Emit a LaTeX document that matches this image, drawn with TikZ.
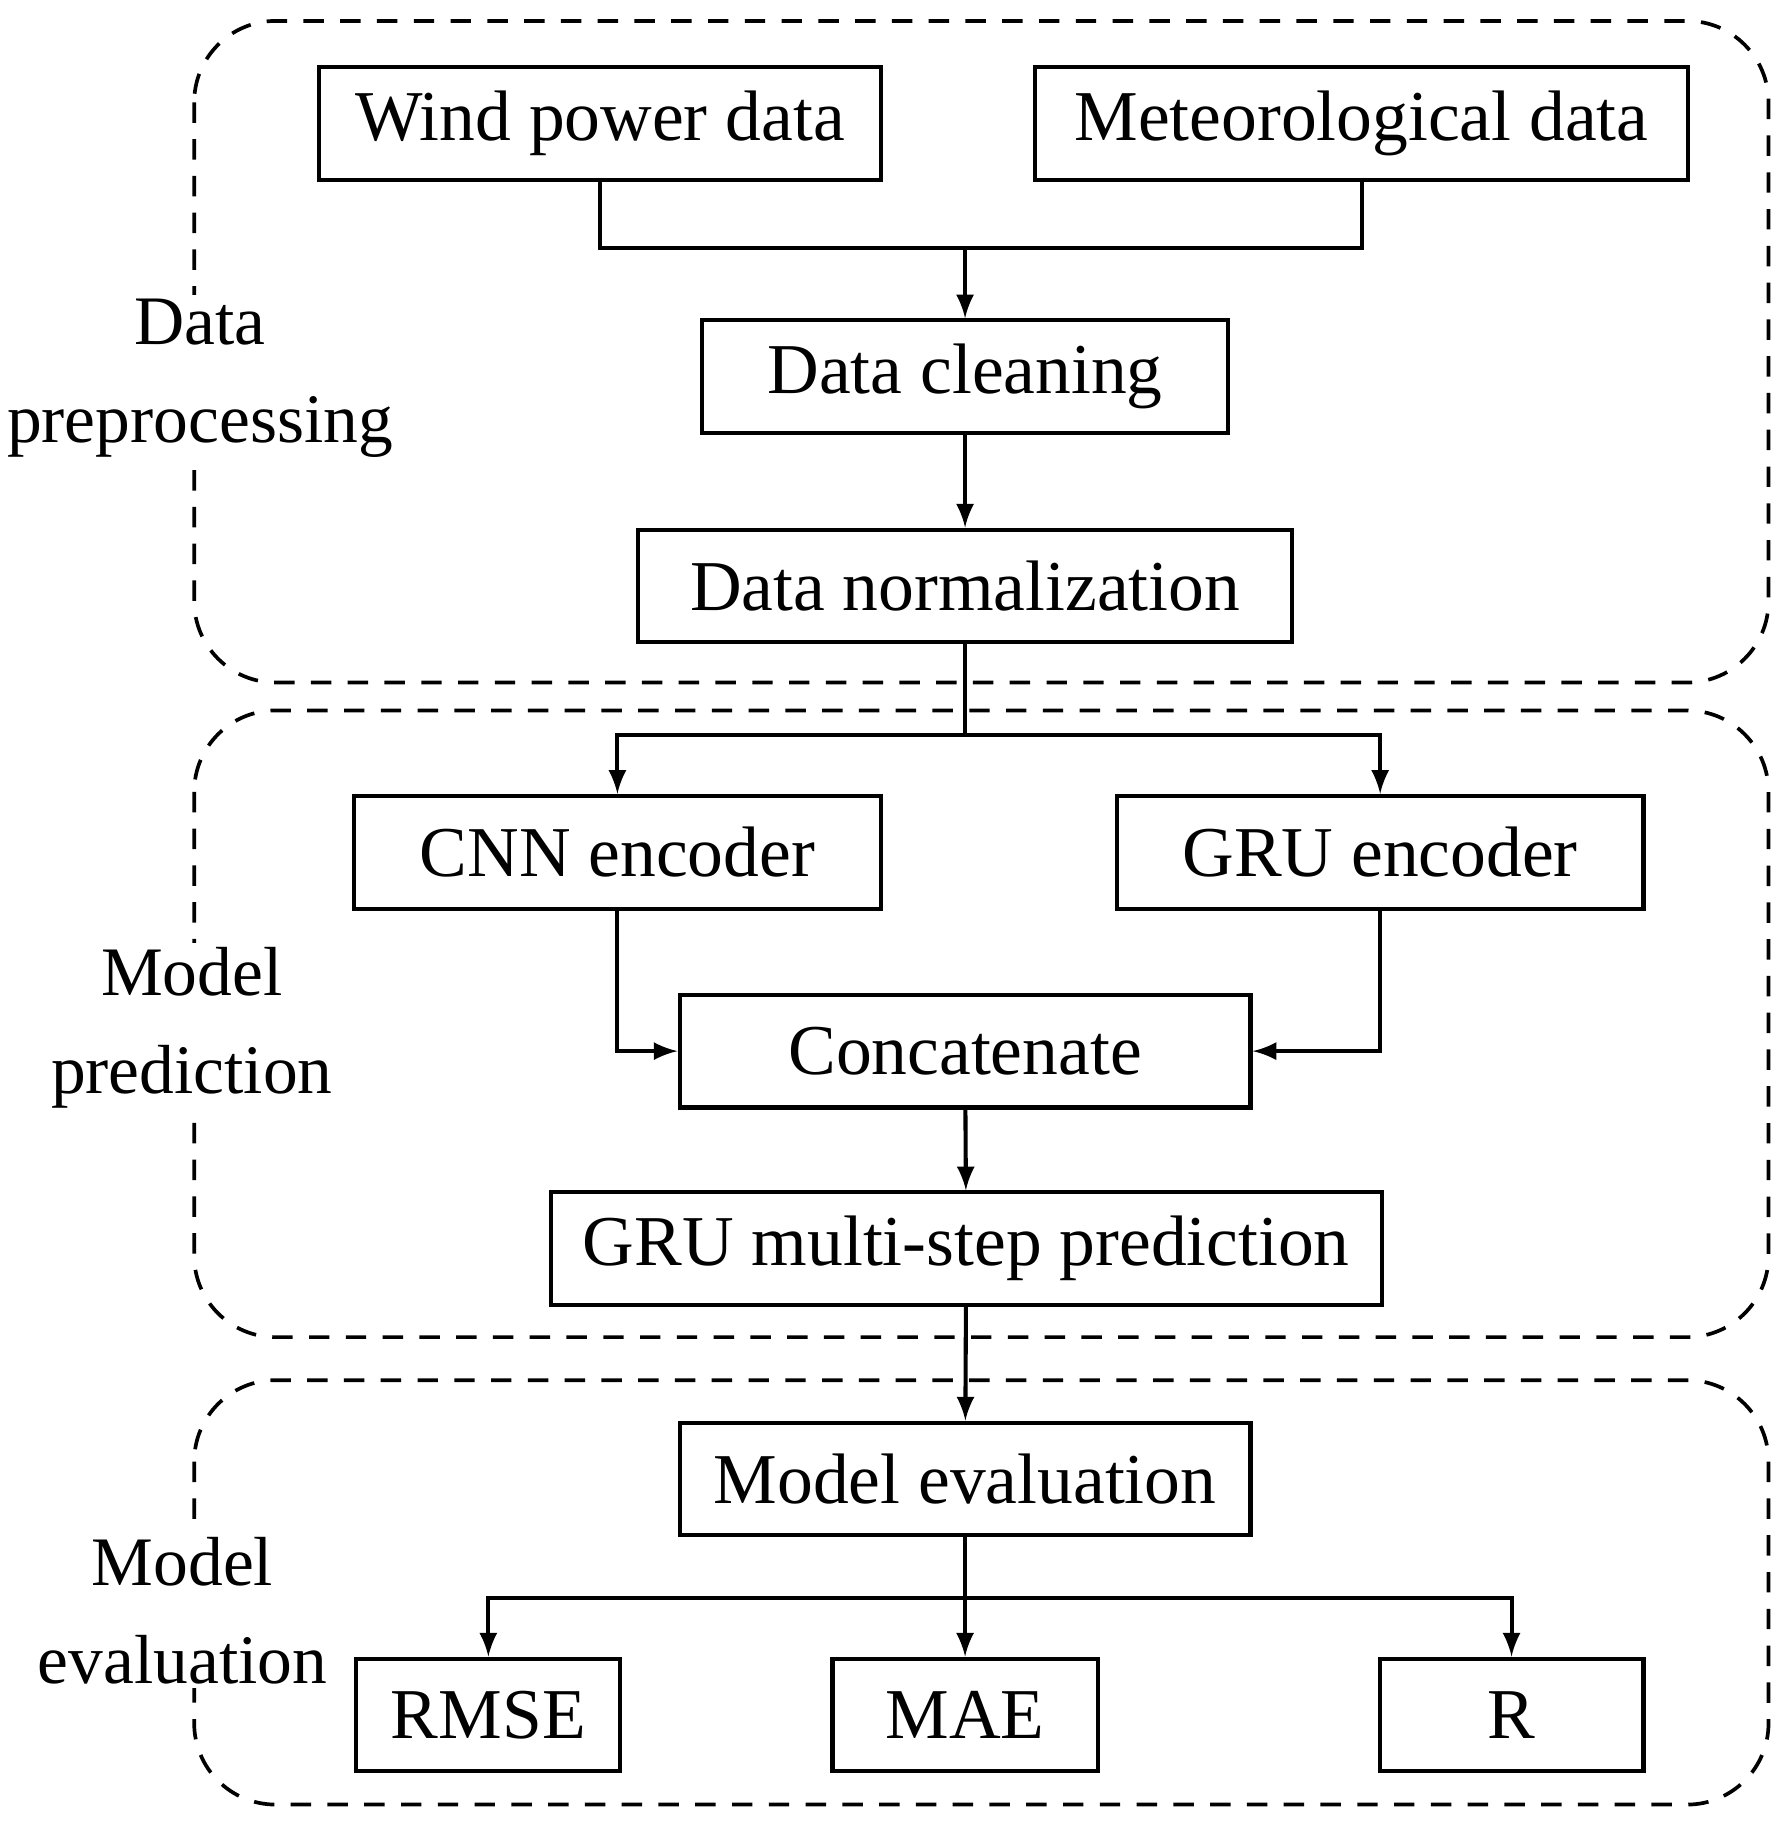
\documentclass[tikz,border=0pt]{standalone}
\usepackage{fontspec}
\setmainfont{Liberation Serif}
\begin{document}
\begin{tikzpicture}[x=1cm,y=-1cm,
  box/.style={draw,line width=1pt,inner sep=0pt,minimum height=0.97cm,font=\fontsize{17.5}{20}\selectfont},
  grp/.style={draw,dashed,line width=0.9pt,rounded corners=0.7cm,dash pattern=on 5pt off 4pt},
  lab/.style={fill=white,align=center,inner sep=1pt,font=\fontsize{17}{24}\selectfont},
  arr/.style={-latex,line width=1pt},
  ln/.style={line width=1pt}]
\useasboundingbox (0,0) rectangle (15.37,15.67);
% groups
\draw[grp] (1.67,0.18) rectangle (15.21,5.87);
\draw[grp] (1.67,6.11) rectangle (15.21,11.50);
\draw[grp] (1.67,11.87) rectangle (15.21,15.52);
\node[lab] (l1) at (1.72,3.25) {Data\\preprocessing};
\node[lab] (l2) at (1.65,8.84) {Model\\prediction};
\node[lab] (l3) at (1.57,13.85) {Model\\evaluation};
% nodes
\node[box,minimum width=4.84cm] (wind) at (5.16,1.06) {Wind power data};
\node[box,minimum width=5.62cm] (met) at (11.71,1.06) {Meteorological data};
\node[box,minimum width=4.53cm] (clean) at (8.30,3.24) {Data cleaning};
\node[box,minimum width=5.63cm] (norm) at (8.30,5.04) {Data normalization};
\node[box,minimum width=4.53cm] (cnn) at (5.31,7.33) {CNN encoder};
\node[box,minimum width=4.53cm] (gru) at (11.87,7.33) {GRU encoder};
\node[box,minimum width=4.91cm] (cat) at (8.30,9.04) {Concatenate};
\node[box,minimum width=7.15cm] (multi) at (8.31,10.74) {GRU multi-step prediction};
\node[box,minimum width=4.91cm] (eval) at (8.30,12.72) {Model evaluation};
\node[box,minimum width=2.27cm] (rmse) at (4.20,14.75) {RMSE};
\node[box,minimum width=2.28cm] (mae) at (8.30,14.75) {MAE};
\node[box,minimum width=2.27cm] (r) at (13.00,14.75) {R};
% connectors
\coordinate (j1) at (8.30,2.13);
\coordinate (j2) at (8.30,6.32);
\coordinate (j3) at (8.30,13.74);
\draw[ln] (wind.south) |- (j1) -| (met.south);
\draw[arr] (j1) -- (clean.north);
\draw[arr] (clean) -- (norm);
\draw[ln] (norm.south) -- (j2);
\draw[arr] (j2) -| (cnn.north);
\draw[arr] (j2) -| (gru.north);
\draw[arr] (cnn.south) |- (cat.west);
\draw[arr] (gru.south) |- (cat.east);
\draw[arr] (cat) -- (multi);
\draw[arr] (multi) -- (eval);
\draw[ln] (eval.south) -- (j3);
\draw[arr] (j3) -| (rmse.north);
\draw[arr] (j3) -- (mae.north);
\draw[arr] (j3) -| (r.north);
\end{tikzpicture}
\end{document}
